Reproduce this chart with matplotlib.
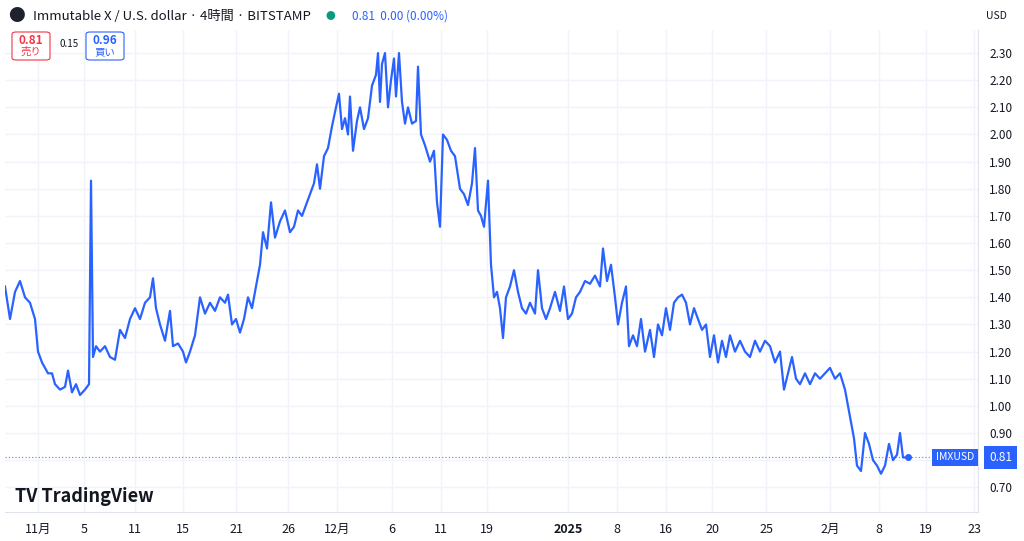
import matplotlib
matplotlib.use('Agg')
import matplotlib.pyplot as plt
from matplotlib.patches import FancyBboxPatch

plt.rcParams['font.family'] = ['Noto Sans CJK JP', 'DejaVu Sans']

# horizontal position of each sample (chart pixel units) and price in USD
xs = [5, 10, 15, 20, 25, 30, 35, 38, 42, 48, 52, 55, 60, 65, 68, 72, 76, 80, 85, 89,
      91, 93, 96, 100, 105, 110, 115, 120, 125, 130, 135, 140, 145, 150, 153, 156, 160, 165, 170, 173,
      178, 183, 186, 190, 195, 200, 205, 210, 215, 220, 225, 228, 232, 236, 240, 244, 248, 252, 256, 260,
      263, 267, 271, 275, 280, 285, 290, 294, 298, 302, 306, 310, 314, 317, 320, 324, 328, 332, 336, 339,
      342, 345, 348, 350, 353, 357, 360, 364, 368, 372, 376, 378, 380, 382, 385, 388, 391, 394, 396, 399,
      402, 405, 408, 412, 416, 418, 421, 425, 430, 434, 437, 440, 443, 447, 451, 455, 460, 464, 468, 472,
      475, 478, 481, 484, 488, 491, 494, 497, 500, 503, 506, 510, 514, 518, 522, 526, 530, 535, 538, 542,
      546, 550, 555, 560, 564, 568, 572, 576, 580, 585, 590, 595, 600, 603, 607, 611, 615, 618, 622, 626,
      629, 633, 637, 641, 645, 650, 654, 658, 662, 666, 670, 674, 678, 682, 686, 690, 694, 698, 702, 706,
      710, 714, 718, 722, 726, 730, 735, 740, 745, 750, 755, 760, 765, 770, 775, 780, 784, 788, 792, 796,
      800, 805, 810, 815, 820, 825, 830, 835, 840, 845, 850, 854, 857, 861, 865, 869, 873, 877, 881, 885,
      889, 893, 897, 900, 903, 908]
prices = [1.44, 1.32, 1.42, 1.46, 1.40, 1.38, 1.32, 1.20, 1.16, 1.12, 1.12, 1.08, 1.06, 1.07, 1.13, 1.05, 1.08, 1.04, 1.06, 1.08,
          1.83, 1.18, 1.22, 1.20, 1.22, 1.18, 1.17, 1.28, 1.25, 1.32, 1.36, 1.32, 1.38, 1.40, 1.47, 1.36, 1.30, 1.24, 1.35, 1.22,
          1.23, 1.20, 1.16, 1.20, 1.26, 1.40, 1.34, 1.38, 1.35, 1.40, 1.38, 1.41, 1.30, 1.32, 1.27, 1.32, 1.40, 1.36, 1.44, 1.52,
          1.64, 1.58, 1.75, 1.62, 1.68, 1.72, 1.64, 1.66, 1.72, 1.70, 1.74, 1.78, 1.82, 1.89, 1.80, 1.92, 1.95, 2.03, 2.10, 2.15,
          2.02, 2.06, 2.00, 2.14, 1.94, 2.05, 2.10, 2.02, 2.06, 2.18, 2.22, 2.30, 2.12, 2.26, 2.30, 2.10, 2.20, 2.28, 2.14, 2.30,
          2.12, 2.04, 2.10, 2.04, 2.05, 2.25, 2.00, 1.96, 1.90, 1.94, 1.75, 1.66, 2.00, 1.98, 1.94, 1.92, 1.80, 1.78, 1.74, 1.82,
          1.95, 1.72, 1.70, 1.66, 1.83, 1.52, 1.40, 1.42, 1.36, 1.25, 1.40, 1.44, 1.50, 1.42, 1.36, 1.34, 1.38, 1.34, 1.50, 1.36,
          1.32, 1.36, 1.42, 1.35, 1.44, 1.32, 1.34, 1.40, 1.42, 1.46, 1.45, 1.48, 1.44, 1.58, 1.46, 1.52, 1.40, 1.30, 1.38, 1.44,
          1.22, 1.26, 1.22, 1.32, 1.20, 1.28, 1.18, 1.30, 1.26, 1.36, 1.28, 1.38, 1.40, 1.41, 1.38, 1.30, 1.36, 1.32, 1.28, 1.30,
          1.18, 1.26, 1.16, 1.24, 1.18, 1.26, 1.20, 1.24, 1.20, 1.18, 1.24, 1.20, 1.24, 1.22, 1.16, 1.20, 1.06, 1.12, 1.18, 1.10,
          1.08, 1.12, 1.08, 1.12, 1.10, 1.12, 1.14, 1.10, 1.12, 1.06, 0.96, 0.88, 0.78, 0.76, 0.90, 0.86, 0.80, 0.78, 0.75, 0.78,
          0.86, 0.80, 0.82, 0.90, 0.81, 0.81]

tick_pos = [38, 84, 135, 183, 236, 288, 337, 392, 441, 487, 568, 617, 666, 712, 766, 830, 879, 926, 974]
tick_labels = ['11月', '5', '11', '15', '21', '26', '12月', '6', '11', '19', '2025', '8', '16', '20', '25',
               '2月', '8', '19', '23']
y_ticks = [0.70, 0.80, 0.90, 1.00, 1.10, 1.20, 1.30, 1.40, 1.50, 1.60, 1.70, 1.80, 1.90, 2.00, 2.10, 2.20, 2.30]
last_price = 0.81

blue = '#2962ff'
grid_c = '#f0f3fa'
txt_c = '#131722'

fig = plt.figure(figsize=(10.24, 5.41), dpi=100)
ax = fig.add_axes([5 / 1024, 29 / 541, 973 / 1024, 482 / 541])
ax.plot(xs, prices, color=blue, lw=1.6)
ax.plot(xs[-1], prices[-1], 'o', color=blue, ms=4)
ax.axhline(last_price, color=blue, lw=0.8, ls=(0, (1, 2)), alpha=0.8)

ax.set_xlim(5, 978)
ax.set_ylim(0.609, 2.385)
ax.set_xticks(tick_pos)
ax.set_xticklabels(tick_labels, fontsize=9, color=txt_c)
for lb in ax.get_xticklabels():
    if lb.get_text() == '2025':
        lb.set_fontweight('bold')
ax.yaxis.tick_right()
ax.set_yticks(y_ticks)
# the 0.80 label sits under the last-price tag
ax.set_yticklabels(['' if abs(v - 0.80) < 1e-9 else f'{v:.2f}' for v in y_ticks], fontsize=8.5, color=txt_c)
ax.tick_params(length=0, pad=8)
ax.grid(True, color=grid_c, lw=1)
for s in ax.spines.values():
    s.set_color('#e0e3eb')
ax.spines['top'].set_visible(False)
ax.spines['left'].set_visible(False)

# last price labels
ax.text(974, last_price, 'IMXUSD', fontsize=7.5, color='white', ha='right', va='center',
        bbox=dict(boxstyle='square,pad=0.35', fc=blue, ec='none'))
ax.text(1012, last_price, '0.81', fontsize=8.5, color='white', ha='right', va='center', clip_on=False,
        bbox=dict(boxstyle='square,pad=0.4', fc=blue, ec='none'))

# header
fig.text(8 / 1024, 1 - 16 / 541, '●', fontsize=12, color='#1e222d', va='center')
fig.text(33 / 1024, 1 - 16 / 541, 'Immutable X / U.S. dollar · 4時間 · BITSTAMP', fontsize=9.5, color=txt_c, va='center')
fig.text(325 / 1024, 1 - 16 / 541, '●', fontsize=7, color='#089981', va='center')
fig.text(352 / 1024, 1 - 16 / 541, '0.81  0.00 (0.00%)', fontsize=8.5, color=blue, va='center')
fig.text(986 / 1024, 1 - 16 / 541, 'USD', fontsize=7.5, color=txt_c, va='center')

for x0, val, lab, col in [(12, '0.81', '売り', '#f23645'), (86, '0.96', '買い', blue)]:
    fig.patches.append(FancyBboxPatch((x0 / 1024, 1 - 60 / 541), 38 / 1024, 28 / 541,
                                      boxstyle='round,pad=0,rounding_size=0.004',
                                      transform=fig.transFigure, fc='white', ec=col, lw=0.8))
    fig.text((x0 + 19) / 1024, 1 - 40 / 541, val, fontsize=8.5, color=col, ha='center', va='center', fontweight='bold')
    fig.text((x0 + 19) / 1024, 1 - 52 / 541, lab, fontsize=7.5, color=col, ha='center', va='center')
fig.text(69 / 1024, 1 - 44 / 541, '0.15', fontsize=7, color=txt_c, ha='center', va='center')

fig.text(15 / 1024, 1 - 497 / 541, 'TV TradingView', fontsize=13, color=txt_c, fontweight='bold', va='center')

fig.savefig('out.png', dpi=100)
